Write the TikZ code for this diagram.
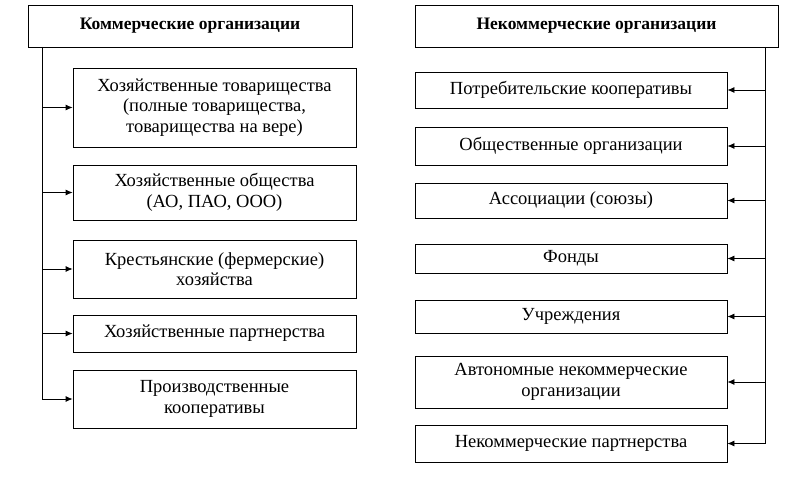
\documentclass[tikz,border=0pt]{standalone}
\usepackage{fontspec}
\setmainfont{Liberation Serif}
\usetikzlibrary{positioning,arrows.meta}

\begin{document}
\begin{tikzpicture}[x=1pt,y=-1pt,>={Latex[length=7pt,width=6pt]},
  box/.style={draw,thick,align=center,font=\fontsize{18.5}{20.5}\selectfont,inner sep=0pt},
  head/.style={box,font=\bfseries\fontsize{17.5}{20}\selectfont}]
\useasboundingbox (0,0) rectangle (799,478);
% headers
\node[head,minimum width=324,minimum height=42] (kom) at (190,26) {Коммерческие организации};
\node[head,minimum width=363,minimum height=42] (nekom) at (596.5,26) {Некоммерческие организации};
% left column
\node[box,minimum width=283,minimum height=79] (l1) at (214.5,107.5) {Хозяйственные товарищества\\(полные товарищества,\\товарищества на вере)};
\node[box,minimum width=283,minimum height=55] (l2) at (214.5,192.5) {Хозяйственные общества\\(АО, ПАО, ООО)};
\node[box,minimum width=283,minimum height=58] (l3) at (214.5,269) {Крестьянские (фермерские)\\хозяйства};
\node[box,minimum width=283,minimum height=37] (l4) at (214.5,333.5) {Хозяйственные партнерства};
\node[box,minimum width=283,minimum height=58] (l5) at (214.5,399) {Производственные\\кооперативы};
\coordinate (lt) at (42,47);
\draw[thick] (lt) -- (lt |- l5.west);
\foreach \n in {l1,l2,l3,l4,l5}
  \draw[thick,->] (lt |- \n.west) -- (\n.west);
% right column
\node[box,minimum width=312,minimum height=36] (r1) at (571,90) {Потребительские кооперативы};
\node[box,minimum width=312,minimum height=38] (r2) at (571,146) {Общественные организации};
\node[box,minimum width=312,minimum height=35] (r3) at (571,200.5) {Ассоциации (союзы)};
\node[box,minimum width=312,minimum height=29] (r4) at (571,258.5) {Фонды};
\node[box,minimum width=312,minimum height=33] (r5) at (571,316.5) {Учреждения};
\node[box,minimum width=312,minimum height=52] (r6) at (571,382) {Автономные некоммерческие\\организации};
\node[box,minimum width=312,minimum height=37] (r7) at (571,443.5) {Некоммерческие партнерства};
\coordinate (rt) at (765,47);
\draw[thick] (rt) -- (rt |- r7.east);
\foreach \n in {r1,r2,r3,r4,r5,r6,r7}
  \draw[thick,->] (rt |- \n.east) -- (\n.east);
\end{tikzpicture}
\end{document}
